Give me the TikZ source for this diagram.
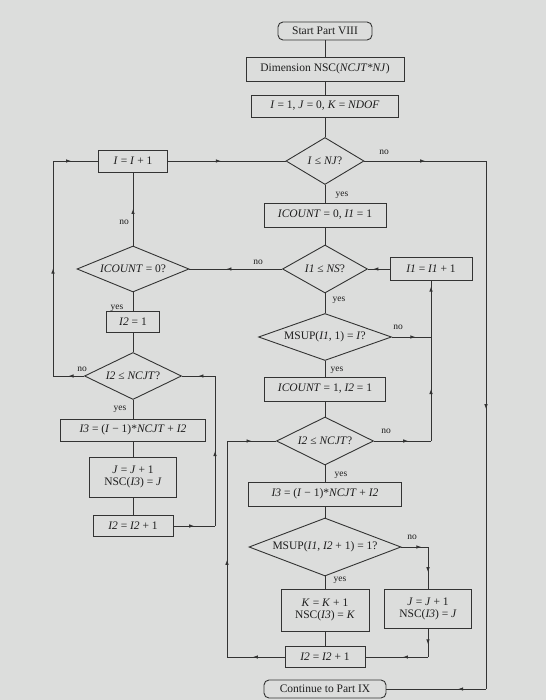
\documentclass[tikz,border=0pt]{standalone}
\usepackage{fontspec}
\setmainfont{Liberation Serif}
\usetikzlibrary{shapes.geometric,decorations.markings,arrows.meta}
\definecolor{bgc}{HTML}{DCDDDC}
\definecolor{linec}{HTML}{333333}
\definecolor{txtc}{HTML}{1E1E1E}
\newcommand\vv[1]{\textit{#1}}
\begin{document}
\begin{tikzpicture}[x=1pt,y=-1pt,
  box/.style={draw=linec, line width=0.9pt, rectangle, inner sep=1pt, align=center, text=txtc, font=\fontsize{11.5}{12.5}\selectfont},
  term/.style={box, rounded corners=5pt},
  dia/.style={draw=linec, line width=0.9pt, diamond, inner sep=0pt},
  dtext/.style={inner sep=0pt, text=txtc, font=\fontsize{11.5}{12.5}\selectfont},
  lab/.style={inner sep=0pt, text=txtc, font=\fontsize{9.5}{10}\selectfont},
  con/.style={draw=linec, line width=0.9pt},
  arr/.style={postaction={decorate,decoration={markings,mark=at position #1 with {\arrow{Latex[length=5pt,width=3.6pt]}}}}},
  arr/.default=0.5]
\fill[bgc] (0,0) rectangle (546,700);
\useasboundingbox (0,0) rectangle (546,700);

% central column
\node[term, minimum width=94pt, minimum height=18pt] (start) at (325,31) {Start Part VIII};
\node[box, minimum width=158pt, minimum height=24pt] (dim) at (325,69) {Dimension NSC(\vv{NCJT*NJ})};
\node[box, minimum width=147pt, minimum height=22pt] (init) at (325,106) {\vv{I} = 1, \vv{J} = 0, \vv{K} = \vv{NDOF}};
\node[dia, minimum width=78pt, minimum height=47pt] (nj) at (325,161) {};
\node[dtext] (njt) at (nj) {\vv{I} ≤ \vv{NJ}?};
\node[box, minimum width=122pt, minimum height=24pt] (icz) at (325,215) {\vv{ICOUNT} = 0, \vv{I1} = 1};
\node[dia, minimum width=85pt, minimum height=48pt] (ns) at (325,269) {};
\node[dtext] (nst) at (ns) {\vv{I1} ≤ \vv{NS}?};
\node[dia, minimum width=133pt, minimum height=47pt] (ms1) at (325,337) {};
\node[dtext] (ms1t) at (ms1) {MSUP(\vv{I1}, 1) = \vv{I}?};
\node[box, minimum width=121pt, minimum height=24pt] (ico) at (325,389) {\vv{ICOUNT} = 1, \vv{I2} = 1};
\node[dia, minimum width=97pt, minimum height=48pt] (nc) at (325,441) {};
\node[dtext] (nct) at (nc) {\vv{I2} ≤ \vv{NCJT}?};
\node[box, minimum width=153pt, minimum height=24pt] (ithree) at (325,494) {\vv{I3} = (\vv{I} − 1)*\vv{NCJT} + \vv{I2}};
\node[dia, minimum width=152pt, minimum height=58pt] (ms2) at (325,547) {};
\node[dtext] (ms2t) at (ms2) {MSUP(\vv{I1}, \vv{I2} + 1) = 1?};
\node[box, minimum width=88pt, minimum height=42pt] (kk) at (325,610) {\vv{K} = \vv{K} + 1\\NSC(\vv{I3}) = \vv{K}};
\node[box, minimum width=87pt, minimum height=39pt] (jj) at (428,609) {\vv{J} = \vv{J} + 1\\NSC(\vv{I3}) = \vv{J}};
\node[box, minimum width=80pt, minimum height=21pt] (itc) at (325,657) {\vv{I2} = \vv{I2} + 1};
\node[term, minimum width=122pt, minimum height=18pt] (cont) at (325,689) {Continue to Part IX};
\node[box, minimum width=82pt, minimum height=23pt] (ione) at (431,269) {\vv{I1} = \vv{I1} + 1};

% left column
\node[box, minimum width=69pt, minimum height=22pt] (iinc) at (133,161) {\vv{I} = \vv{I} + 1};
\node[dia, minimum width=112pt, minimum height=46pt] (icq) at (133,269) {};
\node[dtext] (icqt) at (icq) {\vv{ICOUNT} = 0?};
\node[box, minimum width=53pt, minimum height=21pt] (itwo) at (133,322) {\vv{I2} = 1};
\node[dia, minimum width=97pt, minimum height=47pt] (lnc) at (133,376) {};
\node[dtext] (lnct) at (lnc) {\vv{I2} ≤ \vv{NCJT}?};
\node[box, minimum width=145pt, minimum height=22pt] (lthree) at (133,430) {\vv{I3} = (\vv{I} − 1)*\vv{NCJT} + \vv{I2}};
\node[box, minimum width=87pt, minimum height=40pt] (lj) at (133,477) {\vv{J} = \vv{J} + 1\\NSC(\vv{I3}) = \vv{J}};
\node[box, minimum width=80pt, minimum height=21pt] (ltc) at (133,526) {\vv{I2} = \vv{I2} + 1};

% corner coordinates
\coordinate (rt) at (486,161);
\coordinate (rb) at (486,689);
\coordinate (qa) at (431,441);
\coordinate (qb) at (431,337);
\coordinate (sa) at (428,547);
\coordinate (sb) at (428,657);
\coordinate (la) at (227,657);
\coordinate (lb) at (227,441);
\coordinate (va) at (53,376);
\coordinate (vb) at (53,161);
\coordinate (ra) at (215,526);
\coordinate (rc) at (215,376);

% plain vertical flow
\draw[con] (start) -- (dim);
\draw[con] (dim) -- (init);
\draw[con] (init) -- (nj.north);
\draw[con] (nj.south) -- (icz);
\draw[con] (icz) -- (ns.north);
\draw[con] (ns.south) -- (ms1.north);
\draw[con] (ms1.south) -- (ico);
\draw[con] (ico) -- (nc.north);
\draw[con] (nc.south) -- (ithree);
\draw[con] (ithree) -- (ms2.north);
\draw[con] (ms2.south) -- (kk);
\draw[con] (kk) -- (itc);
\draw[con] (icq.south) -- (itwo);
\draw[con] (itwo) -- (lnc.north);
\draw[con] (lnc.south) -- (lthree);
\draw[con] (lthree) -- (lj);
\draw[con] (lj) -- (ltc);

% I <= NJ no -> continue
\draw[con, arr=0.5] (nj.east) -- (rt);
\draw[con, arr=0.47] (rt) -- (rb);
\draw[con, arr=0.28] (rb) -- (cont.east);

% I = I + 1 -> I <= NJ
\draw[con, arr=0.45] (iinc.east) -- (nj.west);
% ICOUNT = 0? no -> I = I + 1
\draw[con, arr=0.5] (icq.north) -- (iinc.south);
% I1 <= NS no -> ICOUNT = 0?
\draw[con, arr=0.6] (ns.west) -- (icq.east);
% I1 = I1 + 1 -> I1 <= NS
\draw[con, arr=0.75] (ione.west) -- (ns.east);
% MSUP no / I2 <= NCJT no -> I1 = I1 + 1
\draw[con, arr=0.6] (ms1.east) -- (qb);
\draw[con, arr=0.6] (nc.east) -- (qa);
\draw[con, arr=0.5] (qa) -- (qb);
\draw[con, arr=0.9] (qb) -- (ione.south);
% MSUP2 no -> J box -> I2 = I2 + 1
\draw[con, arr=0.75] (ms2.east) -- (sa);
\draw[con, arr=0.6] (sa) -- (jj.north);
\draw[con, arr=0.55] (jj.south) -- (sb);
\draw[con, arr=0.4] (sb) -- (itc.east);
% I2 = I2 + 1 loop back to I2 <= NCJT
\draw[con, arr=0.55] (itc.west) -- (la);
\draw[con, arr=0.45] (la) -- (lb);
\draw[con, arr=0.5] (lb) -- (nc.west);
% left loop
\draw[con, arr=0.5] (lnc.west) -- (va);
\draw[con, arr=0.5] (va) -- (vb);
\draw[con, arr=0.4] (vb) -- (iinc.west);
\draw[con, arr=0.5] (ltc.east) -- (ra);
\draw[con, arr=0.5] (ra) -- (rc);
\draw[con, arr=0.5] (rc) -- (lnc.east);

% branch labels
\node[lab] (l1) at (384,152) {no};
\node[lab] (l2) at (342,195) {yes};
\node[lab] (l3) at (258,262) {no};
\node[lab] (l4) at (124,222) {no};
\node[lab] (l5) at (117,308) {yes};
\node[lab] (l6) at (339,300) {yes};
\node[lab] (l7) at (337,370) {yes};
\node[lab] (l8) at (398,327) {no};
\node[lab] (l9) at (386,431) {no};
\node[lab] (l10) at (341,475) {yes};
\node[lab] (l11) at (82,369) {no};
\node[lab] (l12) at (120,409) {yes};
\node[lab] (l13) at (412,537) {no};
\node[lab] (l14) at (340,580) {yes};
\end{tikzpicture}
\end{document}
